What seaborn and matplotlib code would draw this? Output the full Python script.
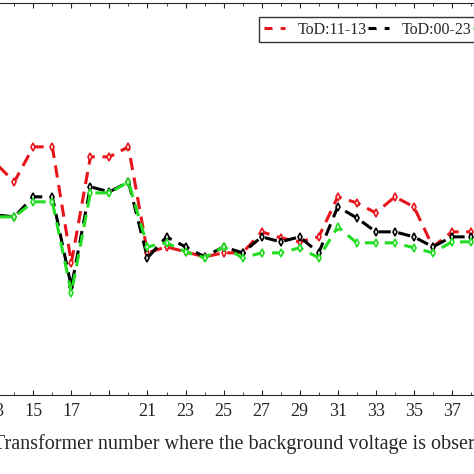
import numpy as np
import pandas as pd
import seaborn as sns
from matplotlib import pyplot as plt

transformers = list(range(13, 39))
# readings in arbitrary units (axis values not visible in the crop)
tod_11_13 = [232, 213, 248, 248, 132, 238, 238, 248, 142, 148, 143, 138, 142, 142, 163, 157,
             153, 158, 198, 192, 182, 198, 188, 148, 163, 163]
tod_00_23 = [180, 178, 198, 198, 108, 208, 203, 213, 137, 158, 148, 138, 148, 142, 158, 153,
             158, 142, 188, 177, 163, 163, 158, 148, 158, 158]
tod_other = [178, 178, 193, 193, 102, 202, 202, 213, 148, 152, 143, 137, 148, 137, 142, 142,
             147, 137, 168, 152, 152, 152, 147, 142, 153, 153]
labels = ["ToD:11-13", "ToD:00-23", "ToD:07-09"]
colors = ["#e8141b", "#000000", "#22dd22"]
tick_labels = ["13", "15", "17", "", "21", "23", "25", "27", "29", "31", "33", "35", "37"]

df = pd.DataFrame({
    "Transformer": transformers * 3,
    "Value": tod_11_13 + tod_00_23 + tod_other,
    "Mode": [labels[0]] * 26 + [labels[1]] * 26 + [labels[2]] * 26,
})

sns.set_style("ticks")
plt.rcParams["font.family"] = ["Liberation Serif", "DejaVu Serif"]

fig = plt.figure(figsize=(4.74, 4.74), dpi=100)
ax = fig.add_axes([-0.01, 0.167, 1.01, 0.827])
sns.lineplot(data=df, x="Transformer", y="Value", hue="Mode", palette=colors,
             linestyle="--", linewidth=2.2, marker="d", markersize=4,
             markerfacecolor="white", markeredgewidth=1.2, dashes=False, ax=ax)
for line, c in zip(ax.lines, colors):
    line.set_markeredgecolor(c)
    line.set_dashes([4, 2.5])

ax.set_xlim(13.2, 38.16)
ax.set_ylim(0, 392)
ax.set_xticks(range(13, 39, 2))
ax.set_xticklabels(tick_labels)
ax.set_xticks(range(13, 39), minor=True)
ax.set_yticks([])
ax.tick_params(which="both", direction="in", top=True, labelsize=13, pad=6)
ax.set_xlabel("Transformer number where the background voltage is observed",
              fontsize=14.5, labelpad=2)
ax.xaxis.set_label_coords(-0.005, -0.1, transform=ax.transAxes)
ax.xaxis.label.set_horizontalalignment("left")
ax.set_ylabel("")
ax.legend(loc="upper left", bbox_to_anchor=(0.535, 0.985), ncol=3, fontsize=11.5,
          frameon=True, fancybox=False, edgecolor="black", handlelength=1.3,
          handletextpad=0.8, columnspacing=0.1, borderpad=0.3)
fig.savefig("out.png", dpi=100)
